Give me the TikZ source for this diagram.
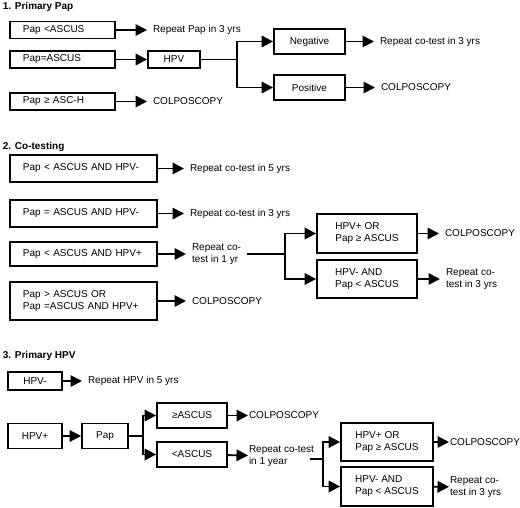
\documentclass[tikz,border=0pt]{standalone}
\usepackage{fontspec}
\setmainfont{Liberation Sans}
\usepackage{tikz}
\usetikzlibrary{arrows.meta}

\begin{document}
\begin{tikzpicture}[x=1pt, y=-1pt, line width=1.8pt,
    every node/.style={font=\fontsize{10}{12}\selectfont},
    box/.style={draw, inner sep=0pt, align=left},
    lbox/.style={box, text width=#1, inner xsep=13pt},
    txt/.style={anchor=west, inner sep=0pt, outer sep=6pt, align=left},
    head/.style={anchor=west, inner sep=0pt, font=\fontsize{10}{12}\selectfont\bfseries},
    arr/.style={-{Triangle[length=11.5pt,width=11.5pt]}}]
  \useasboundingbox (0,0) rectangle (520,508);

  % 1. primary pap
  \node[head] (h1) at (2,7) {1. Primary Pap};
  \node[lbox=79pt, minimum height=17pt] (pA) at (62.5,30) {Pap <ASCUS};
  \node[lbox=79pt, minimum height=17pt] (pB) at (62.5,59.5) {Pap=ASCUS};
  \node[lbox=79pt, minimum height=17pt] (pC) at (62.5,101.5) {Pap ≥ ASC-H};
  \node[box, minimum width=52pt, minimum height=17pt] (hpv) at (174,59.5) {HPV};
  \node[box, minimum width=71pt, minimum height=25pt] (neg) at (309.5,41.5) {Negative};
  \node[box, minimum width=71pt, minimum height=25pt] (pos) at (309.5,87.5) {Positive};
  \coordinate (s1) at (237,59.5);
  \node[txt] (rA) at (147,30) {Repeat Pap in 3 yrs};
  \node[txt] (rC) at (147,101.5) {COLPOSCOPY};
  \node[txt] (rN) at (374,41.5) {Repeat co-test in 3 yrs};
  \node[txt] (rP) at (375,87.5) {COLPOSCOPY};
  \draw[arr] (pA) -- (rA);
  \draw[arr] (pB) -- (hpv);
  \draw[arr] (pC) -- (rC);
  \draw (hpv) -- (s1);
  \draw[arr] (s1) |- (neg);
  \draw[arr] (s1) |- (pos);
  \draw[arr] (neg) -- (rN);
  \draw[arr] (pos) -- (rP);

  % 2. co-testing
  \node[head] (h2) at (2,147) {2. Co-testing};
  \node[lbox=121pt, minimum height=27pt] (cA) at (83.5,168.5) {Pap < ASCUS AND HPV-};
  \node[lbox=121pt, minimum height=27pt] (cB) at (83.5,213.5) {Pap = ASCUS AND HPV-};
  \node[lbox=121pt, minimum height=24pt] (cC) at (83.5,254) {Pap < ASCUS AND HPV+};
  \node[lbox=121pt, minimum height=38pt] (cD) at (83.5,301) {Pap > ASCUS OR\\Pap =ASCUS AND HPV+};
  \node[txt] (rA2) at (184,168.5) {Repeat co-test in 5 yrs};
  \node[txt] (rB2) at (184,213.5) {Repeat co-test in 3 yrs};
  \node[txt] (rC2) at (186,254) {Repeat co-\\test in 1 yr};
  \node[txt] (rD2) at (186,301) {COLPOSCOPY};
  \coordinate (s2) at (285,254);
  \node[box, minimum width=100pt, minimum height=39pt] (cE) at (367,233.5) {HPV+ OR\\Pap ≥ ASCUS};
  \node[box, minimum width=100pt, minimum height=38pt] (cF) at (367,279) {HPV- AND\\Pap < ASCUS};
  \node[txt] (rE2) at (439,233.5) {COLPOSCOPY};
  \node[txt] (rF2) at (440,279) {Repeat co-\\test in 3 yrs};
  \draw[arr] (cA) -- (rA2);
  \draw[arr] (cB) -- (rB2);
  \draw[arr] (cC) -- (rC2);
  \draw[arr] (cD) -- (rD2);
  \draw (rC2) -- (s2);
  \draw[arr] (s2) |- (cE);
  \draw[arr] (s2) |- (cF);
  \draw[arr] (cE) -- (rE2);
  \draw[arr] (cF) -- (rF2);

  % 3. primary hpv
  \node[head] (h3) at (2,356) {3. Primary HPV};
  \node[box, minimum width=54pt, minimum height=18pt] (hN) at (35,381) {HPV-};
  \node[txt] (rHN) at (82,381) {Repeat HPV in 5 yrs};
  \node[box, minimum width=54pt, minimum height=25pt] (hP) at (35,436) {HPV+};
  \node[box, minimum width=46pt, minimum height=25pt] (hPap) at (105,436) {Pap};
  \coordinate (s3) at (143,436);
  \node[box, minimum width=70pt, minimum height=25pt] (hGe) at (192,415.5) {≥ASCUS};
  \node[box, minimum width=70pt, minimum height=25pt] (hLt) at (192,454.5) {<ASCUS};
  \node[txt, outer sep=1pt] (rGe) at (248,415.5) {COLPOSCOPY};
  \node[txt, outer sep=1pt] (rLt) at (248,456) {Repeat co-test\\in 1 year};
  \coordinate (s4a) at (310,459);
  \coordinate (s4) at (323,459);
  \node[box, minimum width=92pt, minimum height=38pt] (hE) at (387,442) {HPV+ OR\\Pap ≥ ASCUS};
  \node[box, minimum width=92pt, minimum height=39pt] (hF) at (387,486.5) {HPV- AND\\Pap < ASCUS};
  \node[txt, outer sep=1pt] (rE3) at (449,442) {COLPOSCOPY};
  \node[txt, outer sep=1pt] (rF3) at (449,487) {Repeat co-\\test in 3 yrs};
  \draw[arr] (hN) -- (rHN);
  \draw[arr] (hP) -- (hPap);
  \draw (hPap) -- (s3);
  \draw[arr] (s3) |- (hGe);
  \draw[arr] (s3) |- (hLt);
  \draw[arr] (hGe) -- (rGe);
  \draw[arr] (hLt) -- (rLt);
  \draw (s4a) -- (s4);
  \draw[arr] (s4) |- (hE);
  \draw[arr] (s4) |- (hF);
  \draw[arr] (hE) -- (rE3);
  \draw[arr] (hF) -- (rF3);
\end{tikzpicture}
\end{document}
